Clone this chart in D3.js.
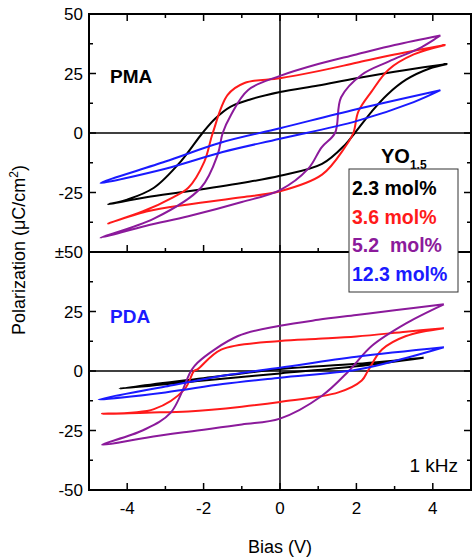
<!DOCTYPE html>
<html><head><meta charset="utf-8">
<script src="https://cdn.jsdelivr.net/npm/d3@7"></script>
<style>body{margin:0;background:#fff}</style>
</head><body><svg id="c" width="474" height="559"></svg>
<script>
const series = ["2.3 mol%","3.6 mol%","5.2  mol%","12.3 mol%"];
const colors = ["#000000","#ff1a1a","#8b1a9b","#1a1aff"];
const xTicks = [-4,-2,0,2,4];
const yTickLabelsTop = ["50","25","0","-25","±50"];
const yTickLabelsBot = ["25","0","-25","-50"];
// PMA loops [V, P]
const pmaBlack = [[4.38,29],[3.3,26.5],[2,23],[1,20],[0,17.2],[-0.8,14],[-1.3,11],[-1.7,6],[-2.03,0],[-2.6,-12],[-3.3,-23],[-4,-28],[-4.5,-30],[-3.5,-27],[-2.4,-24.5],[-1,-21],[0,-18],[1.1,-13],[1.7,-5],[1.96,0],[2.4,9],[2.8,16],[3.3,22.4],[3.9,27],[4.38,29]];
const pmaRed = [[4.33,37],[3,33],[2,29.5],[1,26],[0,23],[-0.93,21],[-1.37,16],[-1.76,0],[-1.98,-12],[-2.4,-23],[-2.8,-27],[-3.6,-33],[-4.5,-38],[-3.5,-33],[-2.4,-30],[-1,-27],[0,-24.5],[1.1,-17.5],[1.7,-6],[1.92,0],[2.05,9],[2.4,17.5],[2.84,26.6],[3.5,33],[4.33,37]];
const pmaPurple = [[4.2,41],[3,37],[2,33],[1,29],[0,24],[-0.84,18],[-1.28,7.7],[-1.5,0],[-1.63,-9],[-2.07,-23],[-3.3,-36],[-4.7,-44],[-3.5,-39],[-2.4,-35],[-1,-29],[0,-24],[0.74,-15],[1.09,-6],[1.44,0],[1.6,15],[2.14,24.5],[2.84,30],[3.7,36],[4.2,41]];
const pmaBlue = [[4.2,18],[2,10],[0,2],[-1.54,-4],[-3,-12],[-4.7,-21],[-3,-15],[-1.5,-8],[0,-2.4],[2,5],[3.5,13],[4.2,18]];
// PDA loops
const pdaBlack = [[3.76,5.6],[2,3],[0,0.8],[-2,-3],[-4.2,-7.4],[-2,-4],[0,-1],[2,2],[3.76,5.6]];
const pdaRed = [[4.29,18],[3.3,16.5],[2,14.5],[1,13.5],[0,12.6],[-1.54,9],[-2.16,0.7],[-2.25,0],[-2.5,-7.7],[-3.3,-16],[-4.66,-18],[-3.5,-17.5],[-2.4,-17],[-1,-15],[0,-13],[1.53,-9],[2.14,-4],[2.3,0],[2.67,9],[3.3,14.7],[4.29,18]];
const pdaPurple = [[4.29,28],[3,25.5],[2,23.5],[1,21.5],[0,19],[-1.1,14.7],[-2.16,3.5],[-2.33,0],[-2.86,-17.5],[-3.6,-25],[-4.66,-31],[-3.5,-28],[-2.4,-25.5],[-1,-22.5],[0,-20],[1.09,-10.5],[1.8,0],[2.4,10.5],[3.3,20],[4.29,28]];
const pdaBlue = [[4.29,10],[2,6],[0,1.4],[-1.3,-1.5],[-3,-6.5],[-4.75,-12],[-3,-9],[-1.5,-5.5],[0,-2.8],[2,0.5],[3.3,5.5],[4.29,10]];

const svg = d3.select("#c");
const L=89,R=471,T=14,M=252,B=490;
const x = d3.scaleLinear().domain([-5,5]).range([L,R]);
const yT = d3.scaleLinear().domain([-50,50]).range([M,T]);
const yB = d3.scaleLinear().domain([-50,50]).range([B,M]);
const font="Liberation Sans, Arial, sans-serif";

function drawLoops(loops, y){
  const line=d3.line().x(d=>x(d[0])).y(d=>y(d[1])).curve(d3.curveCatmullRom.alpha(0.5));
  loops.forEach((l,i)=>svg.append("path").attr("d",line(l)).attr("fill","none")
    .attr("stroke",colors[i]).attr("stroke-width",2));
}
[yT,yB].forEach(y=>{
  svg.append("line").attr("x1",L).attr("x2",R).attr("y1",y(0)).attr("y2",y(0)).attr("stroke","#000").attr("stroke-width",1.5);
});
svg.append("line").attr("x1",x(0)).attr("x2",x(0)).attr("y1",T).attr("y2",B).attr("stroke","#000").attr("stroke-width",1.5);
drawLoops([pmaBlack,pmaRed,pmaPurple,pmaBlue],yT);
drawLoops([pdaBlack,pdaRed,pdaPurple,pdaBlue],yB);

function ticks(y, top, bottom){
  const g=svg.append("g");
  g.append("rect").attr("x",L).attr("y",y(50)).attr("width",R-L).attr("height",y(-50)-y(50)).attr("fill","none").attr("stroke","#000").attr("stroke-width",2);
  d3.range(-50,50.1,12.5).forEach(v=>{
    const len = v%25===0?7:4;
    g.append("line").attr("x1",L).attr("x2",L+len).attr("y1",y(v)).attr("y2",y(v)).attr("stroke","#000").attr("stroke-width",1.5);
    g.append("line").attr("x1",R).attr("x2",R-len).attr("y1",y(v)).attr("y2",y(v)).attr("stroke","#000").attr("stroke-width",1.5);
  });
  d3.range(-5,5.1,1).forEach(v=>{
    const len = v%2===0?7:4;
    if(top) g.append("line").attr("x1",x(v)).attr("x2",x(v)).attr("y1",y(50)).attr("y2",y(50)+len).attr("stroke","#000").attr("stroke-width",1.5);
    if(bottom) g.append("line").attr("x1",x(v)).attr("x2",x(v)).attr("y1",y(-50)).attr("y2",y(-50)-len).attr("stroke","#000").attr("stroke-width",1.5);
  });
}
ticks(yT,true,true);
ticks(yB,false,true);

const yvTop=[50,25,0,-25,-50], yvBot=[25,0,-25,-50];
yvTop.forEach((v,i)=>svg.append("text").attr("x",L-6).attr("y",yT(v)+6).attr("text-anchor","end")
  .attr("font-family",font).attr("font-size",17).text(yTickLabelsTop[i]));
yvBot.forEach((v,i)=>svg.append("text").attr("x",L-6).attr("y",yB(v)+6).attr("text-anchor","end")
  .attr("font-family",font).attr("font-size",17).text(yTickLabelsBot[i]));
xTicks.forEach(v=>svg.append("text").attr("x",x(v)).attr("y",514).attr("text-anchor","middle")
  .attr("font-family",font).attr("font-size",17).text(v));
svg.append("text").attr("x",x(0)).attr("y",553).attr("text-anchor","middle").attr("font-family",font).attr("font-size",18).text("Bias (V)");
const yl=svg.append("text").attr("transform","translate(25,250) rotate(-90)").attr("text-anchor","middle")
  .attr("font-family",font).attr("font-size",18);
yl.append("tspan").text("Polarization (μC/cm");
yl.append("tspan").attr("dy",-7).attr("font-size",12).text("2");
yl.append("tspan").attr("dy",7).text(")");

svg.append("text").attr("x",110).attr("y",83).attr("font-family",font).attr("font-weight","bold").attr("font-size",19).text("PMA");
svg.append("text").attr("x",110).attr("y",323).attr("font-family",font).attr("font-weight","bold").attr("font-size",19).attr("fill","#1a1aff").text("PDA");
svg.append("text").attr("x",458).attr("y",472).attr("text-anchor","end").attr("font-family",font).attr("font-size",19).text("1 kHz");
const yo=svg.append("text").attr("x",381).attr("y",163).attr("font-family",font).attr("font-weight","bold").attr("font-size",20);
yo.append("tspan").text("YO");
yo.append("tspan").attr("dy",6).attr("font-size",12).text("1.5");

svg.append("rect").attr("x",349).attr("y",169).attr("width",109).attr("height",123).attr("fill","#fff").attr("stroke","#333").attr("stroke-width",1);
series.forEach((s,i)=>svg.append("text").attr("x",352).attr("y",195+i*28.5).attr("font-family",font)
  .attr("font-weight","bold").attr("font-size",19.5).attr("fill",colors[i]).style("white-space","pre").text(s));
</script></body></html>
